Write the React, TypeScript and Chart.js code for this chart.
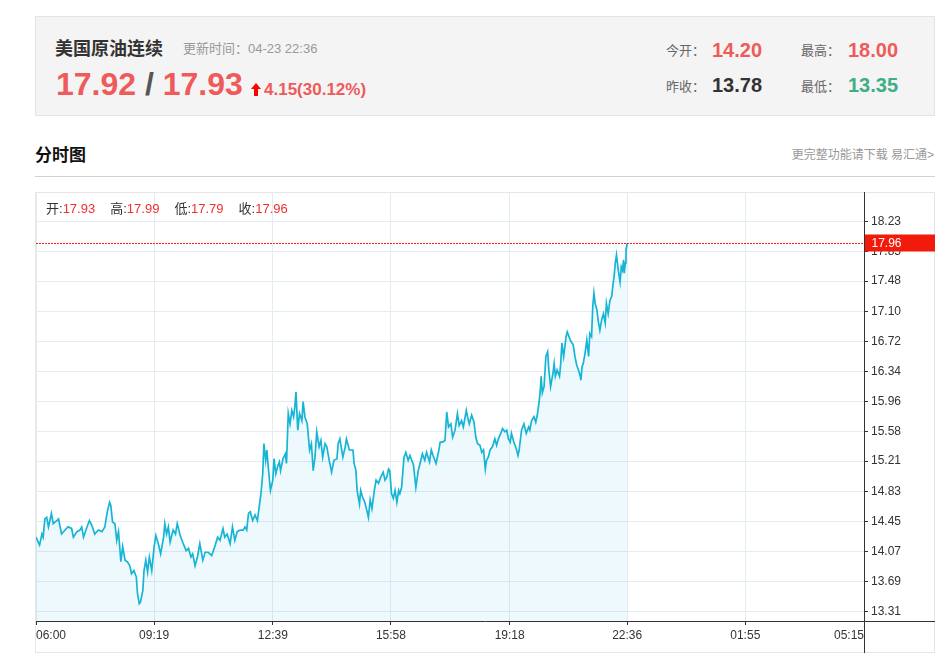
import React, { useEffect, useRef } from "react";
import { Chart, registerables } from "chart.js";

Chart.register(...registerables);

// ---- data (minutes since 06:00, price) ----
const minuteOffsets = [
  0, 6, 10, 12, 15, 18, 21, 26, 29, 35, 38, 43, 49, 54, 60, 63, 69, 74, 77, 80, 85, 90, 94, 99, 105, 111, 116, 120, 124, 126,
  129, 133, 136, 139, 143, 146, 150, 154, 158, 161, 165, 169, 171, 174, 176, 180, 182, 185, 188, 191, 195, 199, 202, 206, 210,
  215, 217, 220, 223, 226, 231, 235, 238, 243, 248, 253, 257, 261, 264, 268, 272, 276, 281, 285, 290, 296, 302, 306, 310, 315,
  318, 322, 327, 331, 335, 339, 344, 349, 352, 355, 358, 361, 365, 369, 373, 376, 379, 382, 384, 387, 389, 391, 395, 399, 401,
  404, 407, 410, 412, 416, 420, 422, 425, 428, 431, 434, 436, 438, 441, 444, 448, 450, 453, 457, 461, 464, 467, 470, 473, 477,
  480, 483, 487, 490, 494, 498, 502, 507, 509, 512, 517, 521, 523, 528, 534, 536, 539, 541, 545, 547, 550, 554, 558, 560, 563,
  566, 570, 573, 577, 581, 585, 588, 591, 594, 596, 599, 602, 605, 608, 611, 613, 616, 620, 623, 627, 630, 633, 636, 640, 644,
  647, 651, 655, 658, 663, 666, 669, 674, 678, 681, 685, 689, 692, 695, 699, 702, 706, 710, 713, 717, 720, 725, 727, 730, 734,
  738, 741, 744, 748, 751, 754, 757, 759, 762, 765, 769, 773, 776, 779, 783, 786, 790, 793, 796, 799, 801, 805, 809, 812, 814,
  818, 822, 826, 830, 832, 835, 839, 842, 845, 848, 850, 851, 853, 856, 859, 862, 864, 867, 871, 873, 875, 878, 882, 884, 886,
  889, 891, 893, 895, 898, 900, 903, 905, 908, 911, 914, 917, 918, 920, 922, 925, 928, 931, 933, 936, 938, 940, 942, 945, 947,
  950, 953, 956, 959, 961, 964, 967, 970, 972, 974, 976, 978, 981, 984, 986, 988, 990, 991, 993, 994, 996,
];
const prices = [
  14.25, 14.15, 14.29, 14.25, 14.48, 14.5, 14.38, 14.55, 14.42, 14.46, 14.48, 14.29, 14.34, 14.38, 14.36, 14.25, 14.32, 14.34, 14.38, 14.25, 14.36, 14.46, 14.4, 14.29, 14.34, 14.32, 14.38, 14.57, 14.69, 14.65,
  14.44, 14.42, 14.21, 14.32, 13.94, 14.13, 13.96, 13.94, 13.89, 13.79, 13.83, 13.75, 13.54, 13.41, 13.43, 13.58, 13.83, 13.96, 13.81, 14.0, 13.83, 14.13, 14.27, 14.17, 14.04,
  14.25, 14.42, 14.29, 14.38, 14.19, 14.34, 14.29, 14.42, 14.27, 14.17, 14.08, 14.11, 14.0, 14.04, 13.89, 14.0, 14.17, 13.96, 14.06, 14.06, 14.02, 14.15, 14.25, 14.21, 14.36,
  14.25, 14.29, 14.17, 14.38, 14.21, 14.32, 14.34, 14.34, 14.38, 14.34, 14.55, 14.57, 14.46, 14.53, 14.46, 14.63, 14.8, 15.05, 15.43, 15.22, 15.35, 15.16, 14.84, 14.97, 15.24,
  15.05, 15.14, 15.2, 15.09, 15.24, 15.3, 15.18, 15.81, 15.68, 15.85, 15.77, 15.89, 16.08, 15.6, 15.81, 15.72, 15.96, 15.77, 15.68, 15.35, 15.43, 15.09, 15.26, 15.58, 15.39,
  15.47, 15.26, 15.43, 15.39, 15.22, 15.07, 15.22, 15.24, 15.43, 15.49, 15.26, 15.39, 15.49, 15.35, 15.35, 15.18, 15.09, 14.84, 14.67, 14.84, 14.76, 14.69, 14.57, 14.5, 14.72,
  14.61, 14.84, 14.97, 14.93, 15.01, 15.07, 14.97, 15.01, 15.11, 15.09, 14.8, 14.74, 14.84, 14.69, 14.84, 14.8, 14.88, 15.26, 15.32, 15.22, 15.28, 15.22, 15.16, 14.88, 15.09,
  15.18, 15.3, 15.22, 15.32, 15.2, 15.35, 15.28, 15.18, 15.32, 15.45, 15.45, 15.47, 15.83, 15.64, 15.68, 15.51, 15.6, 15.81, 15.66, 15.72, 15.64, 15.85, 15.77, 15.68, 15.79,
  15.7, 15.51, 15.43, 15.41, 15.32, 15.35, 15.11, 15.22, 15.26, 15.35, 15.39, 15.49, 15.41, 15.49, 15.56, 15.62, 15.58, 15.6, 15.49, 15.45, 15.56, 15.45, 15.37, 15.28, 15.35,
  15.6, 15.68, 15.56, 15.64, 15.6, 15.72, 15.77, 15.7, 15.81, 15.98, 16.14, 16.28, 16.07, 16.15, 16.53, 16.59, 16.36, 16.15, 16.32, 16.44, 16.28, 16.36, 16.28, 16.44, 16.7,
  16.53, 16.65, 16.78, 16.84, 16.78, 16.74, 16.7, 16.68, 16.53, 16.42, 16.36, 16.28, 16.23, 16.4, 16.44, 16.57, 16.74, 16.53, 16.82, 16.78, 17.16, 17.33, 17.2, 17.12, 16.99,
  16.86, 16.99, 17.07, 16.95, 17.2, 17.07, 17.24, 17.29, 17.43, 17.54, 17.71, 17.81, 17.62, 17.47, 17.66, 17.62, 17.75, 17.58, 17.71, 17.87, 17.96,
];
const xTickLabels = ["06:00", "09:19", "12:39", "15:58", "19:18", "22:36", "01:55", "05:15"];
const yTickLabels = ["13.31", "13.69", "14.07", "14.45", "14.83", "15.21", "15.58", "15.96", "16.34", "16.72", "17.10", "17.48", "17.85", "18.23"];
const lastPrice = 17.96;
const ohlcLabels = ["开", "高", "低", "收"];
const ohlcValues = ["17.93", "17.99", "17.79", "17.96"];

const FONT = "'Liberation Sans', Arial, 'Noto Sans CJK SC', sans-serif";
const RED = "#ef5a5a";
const GREEN = "#3fae86";
const LINE = "#17b5d5";

const toMinutes = (s: string) => {
  const [h, m] = s.split(":").map(Number);
  return (h * 60 + m - 360 + 1440) % 1440;
};
const xTickMinutes = xTickLabels.map(toMinutes);
const X_MAX = xTickMinutes[xTickMinutes.length - 1];
const yTickValues = yTickLabels.map(Number);
const yStep = (yTickValues[yTickValues.length - 1] - yTickValues[0]) / (yTickValues.length - 1);
const Y_MIN = yTickValues[0] - yStep * 0.31;
const Y_MAX = yTickValues[yTickValues.length - 1] + yStep * 0.99;

const zeroPad = (s: any) => {
  s.paddingTop = 0;
  s.paddingBottom = 0;
  s.paddingLeft = 0;
  s.paddingRight = 0;
};

const overlay = {
  id: "overlay",
  afterDraw(chart: any) {
    const { ctx, chartArea, width, height } = chart;
    const ys = chart.scales.y;
    const pyInt = Math.round(ys.getPixelForValue(lastPrice));
    const py = pyInt + 0.5;
    ctx.save();
    ctx.globalAlpha = 1;
    ctx.globalCompositeOperation = "source-over";
    // dotted last price line (2px dash, 1px gap)
    ctx.fillStyle = "#ff1e1e";
    for (let x = Math.round(chartArea.left); x < chartArea.right; x += 3) {
      ctx.fillRect(x, pyInt, Math.min(2, chartArea.right - x), 1);
    }
    // axis lines
    ctx.strokeStyle = "#333";
    ctx.lineWidth = 1;
    ctx.beginPath();
    const rx = Math.round(chartArea.right) + 0.5;
    ctx.moveTo(rx, 0);
    ctx.lineTo(rx, height);
    const by = Math.round(chartArea.bottom) + 0.5;
    ctx.moveTo(chartArea.left, by);
    ctx.lineTo(width, by);
    ctx.stroke();
    // price tag
    ctx.fillStyle = "#f21a0a";
    ctx.fillRect(rx + 0.5, py - 9, width - rx, 17);
    ctx.fillStyle = "#fff";
    ctx.font = `12px ${FONT}`;
    ctx.textBaseline = "middle";
    ctx.fillText(lastPrice.toFixed(2), rx + 7, py + 0.5);
    ctx.restore();
  },
};

function PriceChart() {
  const ref = useRef<HTMLCanvasElement>(null);
  useEffect(() => {
    if (!ref.current) return;
    const points = minuteOffsets.map((m, i) => ({ x: m, y: prices[i] }));
    const chart = new Chart(ref.current, {
      type: "line",
      data: {
        datasets: [
          {
            data: points,
            borderColor: LINE,
            borderWidth: 1.7,
            backgroundColor: "rgba(23,181,213,0.08)",
            fill: "start",
            pointRadius: 0,
            tension: 0,
          },
        ],
      },
      options: {
        animation: false,
        responsive: false,
        maintainAspectRatio: false,
        layout: { padding: { left: 1, top: 0, right: 0, bottom: 0 } },
        plugins: { legend: { display: false }, tooltip: { enabled: false } },
        scales: {
          x: {
            type: "linear",
            min: 0,
            max: X_MAX,
            afterBuildTicks: (s: any) => {
              s.ticks = xTickMinutes.map((v) => ({ value: v }));
            },
            afterFit: (s: any) => {
              s.height = 32;
              zeroPad(s);
            },
            ticks: {
              callback: (_v: any, i: number) => xTickLabels[i],
              autoSkip: false,
              maxRotation: 0,
              align: "inner",
              color: "#333",
              font: { family: FONT, size: 12 },
              padding: 3,
            },
            grid: { color: "#e3ecf1", tickColor: "#333", tickLength: 4 },
            border: { display: false },
          },
          y: {
            position: "right",
            min: Y_MIN,
            max: Y_MAX,
            afterBuildTicks: (s: any) => {
              s.ticks = yTickValues.map((v) => ({ value: v }));
            },
            afterFit: (s: any) => {
              s.width = 71;
              zeroPad(s);
            },
            ticks: {
              callback: (_v: any, i: number) => yTickLabels[i],
              autoSkip: false,
              color: "#333",
              font: { family: FONT, size: 12 },
              padding: 3,
            },
            grid: { color: "#e3ecf1", tickColor: "#333", tickLength: 4 },
            border: { display: false },
          },
        },
      },
      plugins: [overlay],
    } as any);
    return () => chart.destroy();
  }, []);
  return (
    <canvas
      ref={ref}
      width={900}
      height={461}
      style={{ position: "absolute", left: 35, top: 192, width: 900, height: 461 }}
    />
  );
}

const abs = (o: React.CSSProperties): React.CSSProperties => ({ position: "absolute", whiteSpace: "nowrap", ...o });

export default function App() {
  return (
    <div style={{ position: "absolute", left: 0, top: 0, width: 936, height: 672, background: "#fff", fontFamily: FONT }}>
      {/* header box */}
      <div style={abs({ left: 35, top: 16, width: 900, height: 100, boxSizing: "border-box", background: "#f4f4f4", border: "1px solid #e4e4e4" })} />
      <div style={abs({ left: 55, top: 37, fontSize: 18, lineHeight: "24px", fontWeight: "bold", color: "#333" })}>美国原油连续</div>
      <div style={abs({ left: 183, top: 41, fontSize: 13, lineHeight: "16px", color: "#999" })}>更新时间：04-23 22:36</div>
      <div style={abs({ left: 56, top: 66, fontSize: 32, lineHeight: "36px", fontWeight: "bold", color: RED })}>
        <span>17.92</span>
        <span style={{ color: "#555" }}> / </span>
        <span>17.93</span>
      </div>
      <svg style={abs({ left: 251, top: 83 })} width={10} height={13} viewBox="0 0 10 13">
        <polygon points="5,0 10,6 7,6 7,13 3,13 3,6 0,6" fill="#f00" />
      </svg>
      <div style={abs({ left: 264, top: 80, fontSize: 17, lineHeight: "20px", fontWeight: "bold", color: RED })}>4.15(30.12%)</div>

      <div style={abs({ left: 666, top: 42, fontSize: 13, lineHeight: "17px", color: "#666" })}>今开：</div>
      <div style={abs({ left: 712, top: 38, fontSize: 20, lineHeight: "24px", fontWeight: "bold", color: RED })}>14.20</div>
      <div style={abs({ left: 801, top: 42, fontSize: 13, lineHeight: "17px", color: "#666" })}>最高：</div>
      <div style={abs({ left: 848, top: 38, fontSize: 20, lineHeight: "24px", fontWeight: "bold", color: RED })}>18.00</div>
      <div style={abs({ left: 666, top: 78, fontSize: 13, lineHeight: "17px", color: "#666" })}>昨收：</div>
      <div style={abs({ left: 712, top: 73, fontSize: 20, lineHeight: "24px", fontWeight: "bold", color: "#333" })}>13.78</div>
      <div style={abs({ left: 801, top: 78, fontSize: 13, lineHeight: "17px", color: "#666" })}>最低：</div>
      <div style={abs({ left: 848, top: 73, fontSize: 20, lineHeight: "24px", fontWeight: "bold", color: GREEN })}>13.35</div>

      {/* section title */}
      <div style={abs({ left: 35, top: 146, fontSize: 17, lineHeight: "20px", fontWeight: "bold", color: "#111" })}>分时图</div>
      <div style={abs({ right: 2, top: 147, fontSize: 12, lineHeight: "16px", color: "#999" })}>更完整功能请下载 易汇通&gt;</div>
      <div style={abs({ left: 35, top: 176, width: 900, height: 1, background: "#d2d2d2" })} />

      {/* chart box */}
      <div style={abs({ left: 35, top: 192, width: 900, height: 461, boxSizing: "border-box", border: "1px solid #e6e6e6" })} />
      <PriceChart />
      <div style={abs({ left: 46, top: 201, fontSize: 13, lineHeight: "16px", color: "#333", zIndex: 2 })}>
        {ohlcLabels.map((l, i) => (
          <span key={l} style={{ marginRight: 15 }}>
            {l}:<span style={{ color: "#f03030" }}>{ohlcValues[i]}</span>
          </span>
        ))}
      </div>
    </div>
  );
}
